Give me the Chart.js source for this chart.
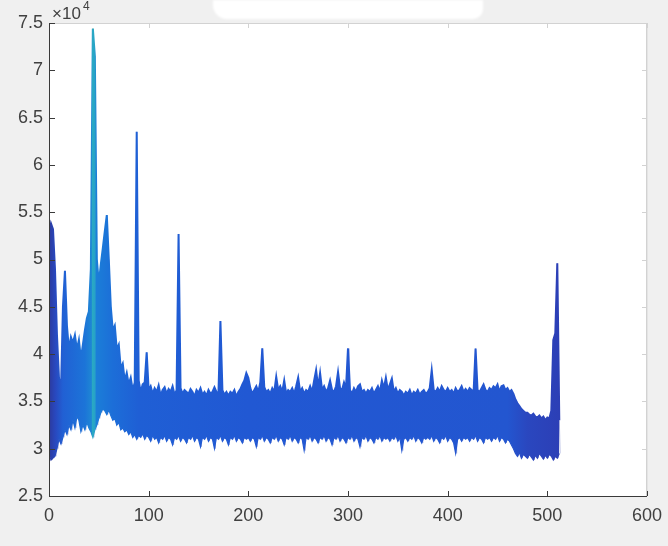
<!DOCTYPE html>
<html>
<head>
<meta charset="utf-8">
<script src="https://cdn.jsdelivr.net/npm/chart.js@4"></script>
<style>
    html, body { margin:0; padding:0; background:#f0f0f0; }
    #wrap { position:relative; width:668px; height:546px; }
    #smudge { position:absolute; left:213px; top:0; width:270px; height:19px; background:#fff; border-radius:0 0 10px 14px; filter:blur(1px); }
</style>
</head>
<body>
<div id="wrap">
    <canvas id="chart" width="668" height="546"></canvas>
    <div id="smudge"></div>
</div>
<script>
// x runs 0..512 in steps of 2, values in units of 1e4
const xStep = 2;

const upper = [
    5.25, 5.38, 5.32, 4.9, 4.2, 3.75, 3.6, 4.5, 4.88, 4.3,
    4.05, 4.18, 4.12, 4.2, 4.05, 4.15, 3.95, 4.1, 4.25, 4.38,
    4.45, 4.9, 7.44, 7.15, 5.0, 4.75, 4.95, 5.12, 5.3, 5.47,
    5.0, 4.5, 4.25, 4.3, 4.05, 4.1, 3.85, 3.9, 3.72, 3.8,
    3.68, 3.75, 3.62, 3.7, 6.35, 3.72, 3.6, 3.68, 3.7, 4.02,
    3.62, 3.66, 3.58, 3.64, 3.6, 3.67, 3.56, 3.62, 3.65, 3.58,
    3.63, 3.6, 3.66, 3.57, 3.62, 5.27, 3.64, 3.58, 3.62, 3.6,
    3.58, 3.63, 3.6, 3.55, 3.62, 3.59, 3.64, 3.57, 3.6, 3.56,
    3.62, 3.58, 3.6, 3.65, 3.6, 3.58, 4.35, 3.62, 3.57, 3.6,
    3.56, 3.6, 3.58, 3.62, 3.55, 3.6, 3.63, 3.68, 3.72, 3.8,
    3.75, 3.64, 3.58, 3.62, 3.66, 3.6, 3.7, 4.06, 3.65, 3.6,
    3.62, 3.58, 3.64, 3.6, 3.76, 3.62, 3.66, 3.6, 3.72, 3.58,
    3.62, 3.6, 3.64, 3.58, 3.66, 3.75, 3.6, 3.64, 3.58, 3.62,
    3.6, 3.66, 3.6, 3.72, 3.83, 3.65, 3.8, 3.62, 3.66, 3.6,
    3.64, 3.72, 3.62, 3.6, 3.66, 3.81, 3.64, 3.62, 3.7, 3.64,
    4.06, 3.62, 3.58, 3.64, 3.6, 3.66, 3.68, 3.6, 3.62, 3.58,
    3.62, 3.6, 3.64, 3.58, 3.62, 3.66, 3.6, 3.72, 3.64, 3.75,
    3.62, 3.68, 3.74, 3.6, 3.64, 3.58, 3.62, 3.6, 3.56, 3.6,
    3.58, 3.62, 3.56, 3.6, 3.58, 3.62, 3.57, 3.6, 3.62, 3.58,
    3.6, 3.64, 3.83, 3.62, 3.6, 3.64, 3.6, 3.66, 3.62, 3.6,
    3.64, 3.6, 3.62, 3.58, 3.64, 3.6, 3.62, 3.66, 3.6, 3.63,
    3.6, 3.64, 3.62, 3.6, 4.06, 3.62, 3.6, 3.64, 3.68, 3.62,
    3.6, 3.64, 3.62, 3.66, 3.64, 3.68, 3.6, 3.66, 3.67, 3.62,
    3.64, 3.6, 3.62, 3.58, 3.52, 3.48, 3.45, 3.42, 3.4, 3.38,
    3.38, 3.36, 3.35, 3.37, 3.34, 3.33, 3.35, 3.32, 3.34, 3.3,
    3.33, 3.32, 3.4, 4.15, 4.22, 4.96, 3.3
];

const lower = [
    2.95, 2.88, 2.9, 2.92, 3.0, 3.1, 3.05, 3.12, 3.2, 3.15,
    3.25, 3.2, 3.3, 3.22, 3.34, 3.3, 3.18, 3.25, 3.2, 3.28,
    3.22, 3.18, 3.12, 3.2, 3.25, 3.32, 3.38, 3.42, 3.4, 3.36,
    3.41, 3.35, 3.3, 3.32, 3.25, 3.28, 3.2, 3.22, 3.18, 3.2,
    3.15, 3.18, 3.12, 3.15, 3.1, 3.14, 3.12, 3.16, 3.1, 3.14,
    3.12, 3.08, 3.14, 3.1, 3.12, 3.06, 3.12, 3.1, 3.14, 3.08,
    3.12, 3.1, 3.04, 3.12, 3.1, 3.14, 3.08, 3.12, 3.1, 3.06,
    3.12, 3.1, 3.14, 3.08, 3.12, 3.1, 3.02, 3.12, 3.1, 3.14,
    3.08, 3.12, 3.1, 3.0, 3.12, 3.1, 3.14, 3.08, 3.12, 3.1,
    3.04, 3.12, 3.1, 3.14, 3.08, 3.12, 3.1, 3.06, 3.12, 3.1,
    3.12, 3.08, 3.12, 3.1, 3.02, 3.12, 3.1, 3.14, 3.08, 3.12,
    3.1, 3.06, 3.12, 3.1, 3.14, 3.08, 3.12, 3.1, 3.04, 3.12,
    3.1, 3.14, 3.08, 3.12, 3.1, 3.06, 3.12, 3.1, 2.98, 3.12,
    3.1, 3.14, 3.08, 3.12, 3.1, 3.06, 3.12, 3.1, 3.14, 3.08,
    3.12, 3.1, 3.04, 3.12, 3.1, 3.14, 3.08, 3.12, 3.1, 3.06,
    3.12, 3.1, 3.14, 3.08, 3.12, 3.1, 3.02, 3.12, 3.1, 3.14,
    3.08, 3.12, 3.1, 3.06, 3.12, 3.1, 3.14, 3.08, 3.12, 3.1,
    3.12, 3.08, 3.12, 3.1, 3.14, 3.08, 3.12, 2.98, 3.1, 3.12,
    3.08, 3.12, 3.1, 3.14, 3.08, 3.12, 3.1, 3.06, 3.12, 3.1,
    3.12, 3.1, 3.14, 3.08, 3.12, 3.1, 3.06, 3.12, 3.1, 3.14,
    3.08, 3.12, 3.1, 3.06, 2.95, 3.1, 3.12, 3.08, 3.12, 3.1,
    3.12, 3.08, 3.12, 3.1, 3.14, 3.08, 3.12, 3.1, 3.06, 3.12,
    3.1, 3.12, 3.08, 3.12, 3.1, 3.14, 3.08, 3.12, 3.1, 3.06,
    3.1, 3.08, 3.04, 3.0, 2.95, 2.92, 2.96, 2.9, 2.94, 2.92,
    2.9, 2.94, 2.91, 2.88, 2.93, 2.9, 2.95, 2.92, 2.89, 2.93,
    2.9, 2.94, 2.92, 2.88, 2.92, 2.9, 2.95
];

// yellow-green edge on the tallest peak
const tipX = [43.6, 44];
const tipY = [6.6, 7.44];

const xTicks = [0, 100, 200, 300, 400, 500, 600];
const yTicks = [2.5, 3, 3.5, 4, 4.5, 5, 5.5, 6, 6.5, 7, 7.5];

// colour along x (parula-ish blues, teal on the big peak)
const colourStops = [
    [0, '#2c3a9c'], [6, '#2947bd'], [14, '#2160d4'], [36, '#1c74d8'],
    [42.5, '#1e86d4'], [43.5, '#2aa9c3'], [46, '#27a2c8'], [47.5, '#1b7ed8'],
    [64, '#1c6ed8'], [90, '#1f5fd5'], [200, '#2158d3'], [460, '#2356d0'],
    [480, '#2a47bf'], [512, '#2c3fb6']
];

const toPoints = ys => ys.map((y, i) => ({ x:i * xStep, y }));

// hatch line running from the top edge to the bottom edge at every step
const hatch = [];
upper.forEach((y, i) => {
    hatch.push({ x:i * xStep, y });
    hatch.push({ x:i * xStep + 1, y:lower[i] });
});

function bandColour(context) {
    const chart = context.chart;
    const { ctx, chartArea, scales } = chart;
    if (!chartArea) return '#2158d3';
    const x0 = scales.x.getPixelForValue(0);
    const x1 = scales.x.getPixelForValue(600);
    const g = ctx.createLinearGradient(x0, 0, x1, 0);
    colourStops.forEach(([v, c]) => g.addColorStop(v / 600, c));
    return g;
}

const frame = {
    id:'frame',
    beforeDatasetsDraw(chart) {
        const { ctx, chartArea:a } = chart;
        ctx.save();
        ctx.fillStyle = '#fff';
        ctx.fillRect(a.left, a.top, a.right - a.left, a.bottom - a.top);
        ctx.restore();
    },
    afterDatasetsDraw(chart) {
        const { ctx, chartArea:a, scales } = chart;
        ctx.save();
        // light box on top and right
        ctx.strokeStyle = '#d2d2d2';
        ctx.lineWidth = 1;
        ctx.beginPath();
        ctx.moveTo(a.left, a.top + 0.5);
        ctx.lineTo(a.right - 0.5, a.top + 0.5);
        ctx.lineTo(a.right - 0.5, a.bottom);
        ctx.stroke();
        xTicks.forEach(v => {
            const px = Math.round(scales.x.getPixelForValue(v)) + 0.5;
            ctx.beginPath(); ctx.moveTo(px, a.top); ctx.lineTo(px, a.top + 5); ctx.stroke();
        });
        yTicks.forEach(v => {
            const py = Math.round(scales.y.getPixelForValue(v)) + 0.5;
            ctx.beginPath(); ctx.moveTo(a.right, py); ctx.lineTo(a.right - 5, py); ctx.stroke();
        });
        // dark axes with inward ticks
        ctx.strokeStyle = '#3a3a3a';
        ctx.beginPath();
        ctx.moveTo(a.left + 0.5, a.top);
        ctx.lineTo(a.left + 0.5, a.bottom + 0.5);
        ctx.lineTo(a.right, a.bottom + 0.5);
        ctx.stroke();
        xTicks.forEach(v => {
            const px = Math.round(scales.x.getPixelForValue(v)) + 0.5;
            ctx.beginPath(); ctx.moveTo(px, a.bottom); ctx.lineTo(px, a.bottom - 5); ctx.stroke();
        });
        yTicks.forEach(v => {
            const py = Math.round(scales.y.getPixelForValue(v)) + 0.5;
            ctx.beginPath(); ctx.moveTo(a.left, py); ctx.lineTo(a.left + 6, py); ctx.stroke();
        });
        // exponent label
        ctx.fillStyle = '#404040';
        ctx.textBaseline = 'alphabetic';
        ctx.font = '17px "Liberation Sans", Arial, sans-serif';
        ctx.fillText('\u00d710', a.left + 3, a.top - 4);
        ctx.font = '12px "Liberation Sans", Arial, sans-serif';
        ctx.fillText('4', a.left + 34, a.top - 13);
        ctx.restore();
    }
};

const tickFont = { family:'"Liberation Sans", Arial, sans-serif', size:18 };

new Chart(document.getElementById('chart'), {
    type:'line',
    data:{
        datasets:[
            {
                data:toPoints(upper),
                borderColor:bandColour,
                backgroundColor:bandColour,
                borderWidth:2,
                pointRadius:0,
                tension:0,
                fill:'+1'
            },
            {
                data:toPoints(lower),
                borderColor:bandColour,
                borderWidth:1.2,
                pointRadius:0,
                tension:0,
                fill:false
            },
            {
                data:hatch,
                borderColor:'rgba(30,50,170,0.35)',
                borderWidth:0.7,
                pointRadius:0,
                tension:0,
                fill:false
            },
            {
                data:tipX.map((x, i) => ({ x, y:tipY[i] })),
                borderColor:'#a6cf4e',
                borderWidth:1.2,
                pointRadius:0,
                fill:false
            }
        ]
    },
    options:{
        animation:false,
        responsive:false,
        layout:{ padding:{ top:23, right:21, left:0, bottom:0 } },
        plugins:{ legend:{ display:false }, tooltip:{ enabled:false } },
        scales:{
            x:{
                type:'linear',
                min:0, max:600,
                afterBuildTicks(scale) { scale.ticks = xTicks.map(value => ({ value })); },
                afterFit(scale) { scale.height = 50; },
                grid:{ color:'#e4e4e4', drawTicks:true, tickLength:9, tickColor:'rgba(0,0,0,0)' },
                border:{ display:false },
                ticks:{ color:'#404040', padding:0, font:tickFont, callback:v => String(v) }
            },
            y:{
                min:2.5, max:7.5,
                afterBuildTicks(scale) { scale.ticks = yTicks.map(value => ({ value })); },
                afterFit(scale) { scale.width = 49; },
                grid:{ color:'#e4e4e4', drawTicks:false },
                border:{ display:false },
                ticks:{ color:'#404040', padding:6, font:tickFont, callback:v => String(v) }
            }
        }
    },
    plugins:[frame]
});
</script>
</body>
</html>
